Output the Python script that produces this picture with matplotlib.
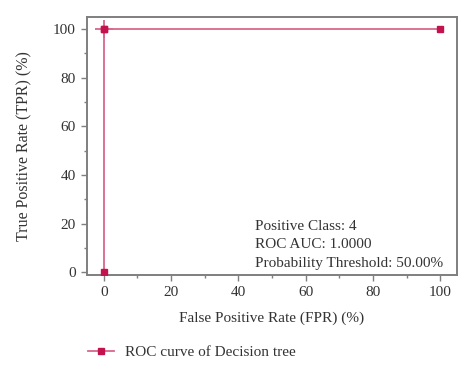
import matplotlib.pyplot as plt
from matplotlib.ticker import MultipleLocator

# ROC points (%)
fpr = [0, 0, 100]
tpr = [0, 100, 100]
elbow = (0, 100)
positive_class = 4
roc_auc = 1.0
threshold = 50.0

line_col = '#d9678a'
mark_col = '#c4124f'
grey = '#7f7f7f'

plt.rcParams['font.family'] = 'Liberation Serif'
plt.rcParams['font.size'] = 11

fig = plt.figure(figsize=(4.74, 3.74), dpi=100)
ax = fig.add_axes([87 / 474, 99 / 374, 370 / 474, 258 / 374])

ax.plot(fpr, tpr, color=line_col, lw=1.3, marker='s', ms=5,
        mfc=mark_col, mec=mark_col, label='ROC curve of Decision tree', zorder=3)
ax.plot([elbow[0]], [elbow[1]], marker='+', ms=13, mew=1.3, color=line_col,
        ls='none', zorder=2)
ax.plot([elbow[0]], [elbow[1]], marker='s', ms=5, color=mark_col, ls='none', zorder=4)

ax.set_xlim(-5, 105)
ax.set_ylim(-1.1, 105)
ax.xaxis.set_major_locator(MultipleLocator(20))
ax.xaxis.set_minor_locator(MultipleLocator(10))
ax.yaxis.set_major_locator(MultipleLocator(20))
ax.yaxis.set_minor_locator(MultipleLocator(10))
ax.tick_params(which='major', direction='out', length=4, width=1, color=grey,
               labelcolor='#333333', pad=4)
ax.tick_params(which='minor', direction='out', length=2.5, width=1, color=grey)
for s in ax.spines.values():
    s.set_color(grey)
    s.set_linewidth(1.4)

ax.set_xlabel('False Positive Rate (FPR) (%)', color='#333333', labelpad=9)
ax.set_ylabel('True Positive Rate (TPR) (%)', color='#333333', labelpad=15,
              fontsize=11.5)

info = (f'Positive Class: {positive_class}\n'
        f'ROC AUC: {roc_auc:.4f}\n'
        f'Probability Threshold: {threshold:.2f}%')
ax.text(0.455, 0.02, info, transform=ax.transAxes, ha='left', va='bottom',
        color='#333333', linespacing=1.55)

fig.legend(loc='center left', bbox_to_anchor=(74 / 474, 1 - 352 / 374),
           frameon=False, handlelength=1.75, handletextpad=0.7,
           labelcolor='#333333')

fig.savefig('out.png', dpi=100)
